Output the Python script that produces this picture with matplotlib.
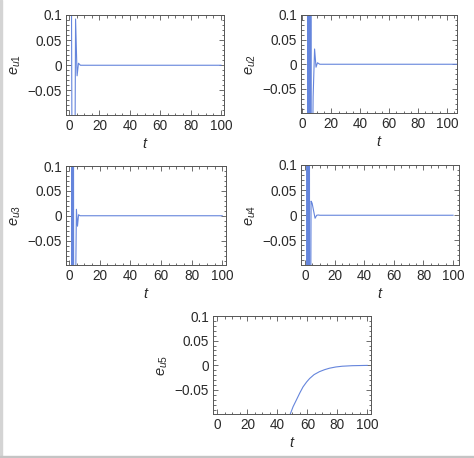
import matplotlib
matplotlib.use("Agg")
import matplotlib.pyplot as plt
from matplotlib.patches import Rectangle
from matplotlib.ticker import MultipleLocator

plt.rcParams['font.family'] = ['Liberation Sans', 'DejaVu Sans']
plt.rcParams['mathtext.fontset'] = 'custom'
plt.rcParams['mathtext.it'] = 'Liberation Sans:italic'
plt.rcParams['mathtext.rm'] = 'Liberation Sans'

# Data
t1 = [0, 1.2, 2.3, 3.3, 4.3, 5.3, 6.2, 7.5, 100]
e1 = [0.35, 0.5, -0.5, -0.6, 0.092, -0.021, 0.004, 0.0, 0.0]

t2 = [0, 3.4, 3.7, 4.0, 4.3, 4.6, 4.9, 5.2, 5.5, 5.8, 6.1, 7.4, 8.4, 9.4, 10.4, 12, 110]
e2 = [0.3, 0.8, -0.8, 0.7, -0.7, 0.6, -0.6, 0.5, -0.5, 0.4, -0.4, -0.066, 0.031, -0.006, 0.003, 0.0, 0.0]

t3 = [0, 1.6, 1.9, 2.2, 2.5, 2.8, 3.1, 4.8, 5.5, 6.2, 7.2, 100]
e3 = [0.3, 0.7, -0.7, 0.6, -0.6, 0.5, -0.5, 0.013, -0.021, 0.002, 0.0, 0.0]

t4 = [0, 1.1, 1.4, 1.7, 2.0, 2.3, 2.6, 2.9, 3.2, 3.5, 4.1, 4.8, 6.8, 7.9, 9.0, 10, 100]
e4 = [0.3, 0.8, -0.8, 0.7, -0.7, 0.6, -0.6, 0.5, -0.5, -0.5, 0.028, 0.024, -0.006, 0.0, 0.0005, 0.0, 0.0]

t5 = [40, 48.6, 50.5, 52.6, 55.0, 57.1, 59.5, 61.5, 64.5, 68.1, 71.5, 74.8, 79.0, 83.3, 90, 100]
e5 = [-0.3, -0.099, -0.084, -0.071, -0.056, -0.044, -0.034, -0.027, -0.019, -0.013, -0.009, -0.006, -0.0035, -0.002, -0.0009, -0.0003]

labels = [r'$e_{u1}$', r'$e_{u2}$', r'$e_{u3}$', r'$e_{u4}$', r'$e_{u5}$']
series = [(t1, e1), (t2, e2), (t3, e3), (t4, e4), (t5, e5)]
xlims = [(-2, 102), (-1, 107), (-2, 102.5), (-2.7, 104), (-3, 102.5)]

W, H = 474, 458
# axes boxes in pixels: left, top, right, bottom
boxes = [(66, 15, 224, 115), (301, 15, 457, 113),
         (66, 166, 226, 265), (301, 165, 459, 265),
         (213, 316, 371, 414)]

fig = plt.figure(figsize=(W / 100, H / 100), dpi=100)
fig.patches.append(Rectangle((0, 0), 2 / W, 1, transform=fig.transFigure,
                             color='#d4d4d4', zorder=0))
fig.patches.append(Rectangle((0, 0), 1, 2.5 / H, transform=fig.transFigure,
                             color='#c4c4c4', zorder=0))

frame = '#555555'
for (t, e), lab, xl, (l, tp, r, b) in zip(series, labels, xlims, boxes):
    ax = fig.add_axes([l / W, 1 - b / H, (r - l) / W, (b - tp) / H])
    ax.plot(t, e, color='#6585dc', lw=0.8)
    ax.set_xlim(*xl)
    ax.set_ylim(-0.099, 0.1)
    ax.set_xticks([0, 20, 40, 60, 80, 100])
    ax.set_xticklabels(['0', '20', '40', '60', '80', '100'])
    ax.set_yticks([-0.05, 0, 0.05, 0.1])
    ax.set_yticklabels(['\u22120.05', '0', '0.05', '0.1'])
    ax.xaxis.set_minor_locator(MultipleLocator(5))
    ax.yaxis.set_minor_locator(MultipleLocator(0.01))
    ax.tick_params(which='both', direction='in', top=True, right=True,
                   color=frame, width=0.6, labelsize=9.8, labelcolor='#2a2a2a')
    ax.tick_params(which='major', length=3.5, pad=3)
    ax.tick_params(which='minor', length=1.8)
    for s in ax.spines.values():
        s.set_color(frame)
        s.set_linewidth(0.7)
    ax.set_xlabel('$t$', fontsize=10.5, labelpad=3, color='#2a2a2a')
    ax.set_ylabel(lab, fontsize=10.5, labelpad=3, color='#2a2a2a')

fig.savefig('out.png', dpi=100)
